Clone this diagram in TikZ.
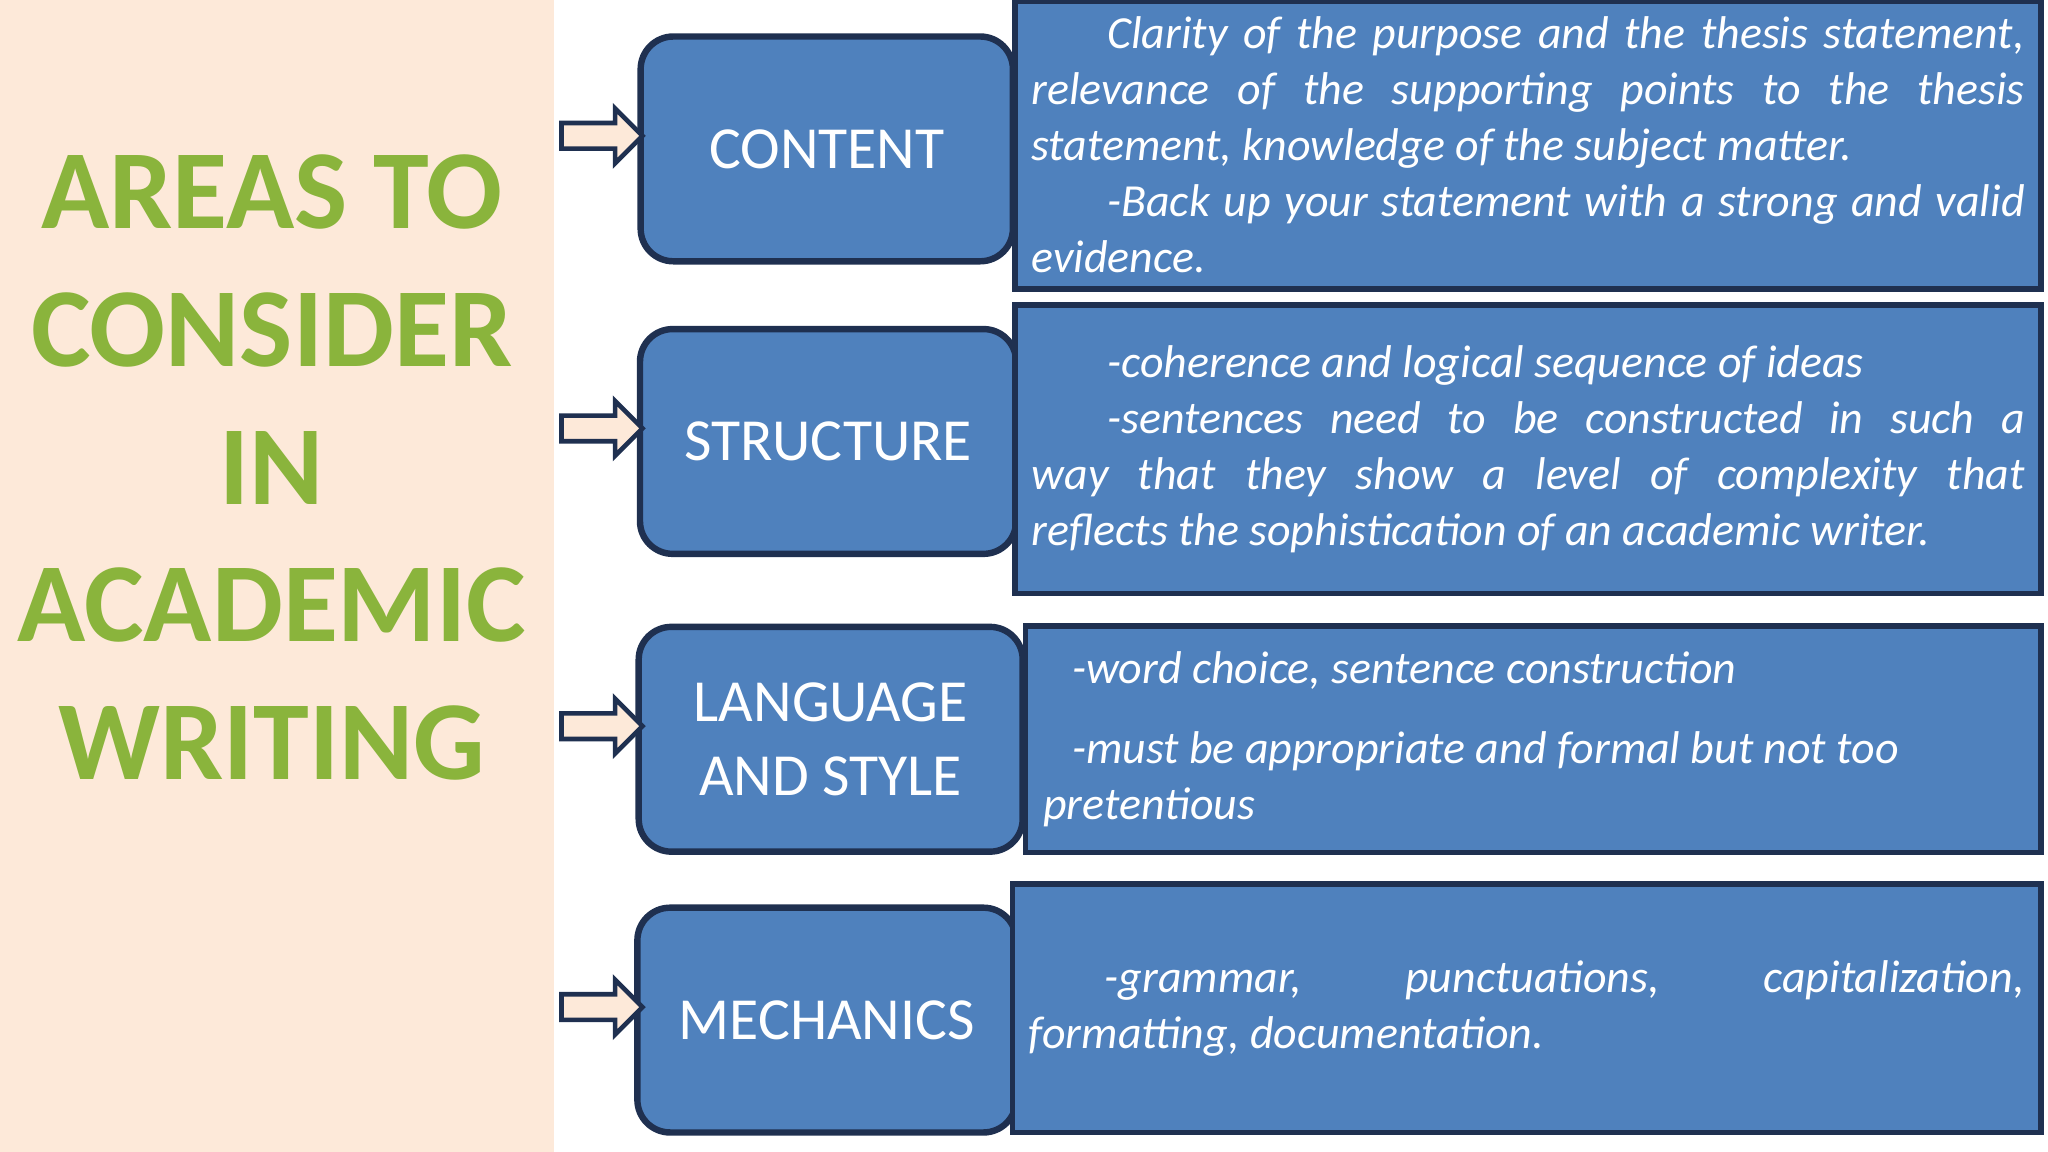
\documentclass[tikz,border=0pt]{standalone}
\usepackage{fontspec}
\setmainfont{Carlito}
\usepackage{tikz}
\usetikzlibrary{shapes.arrows}
\definecolor{Peach}{HTML}{FDE9D9}
\definecolor{BoxBlue}{HTML}{4F81BD}
\definecolor{Navy}{HTML}{1F3050}
\definecolor{TitleGreen}{HTML}{8AB43C}
\hyphenpenalty=10000
\tikzset{
    area/.style = {rounded corners = 0.25cm, fill = BoxBlue, draw = Navy, line width = 1.4pt,
        text = white, align = center, font = \fontsize{13}{16}\selectfont},
    detail/.style = {fill = BoxBlue, draw = Navy, line width = 1.2pt, text = white,
        inner sep = 0.12cm, font = \fontsize{10}{12.2}\selectfont\itshape},
    pointer/.style = {single arrow, fill = Peach, draw = Navy, line width = 1pt,
        minimum height = 0.62cm, minimum width = 0.42cm, single arrow head extend = 0.1cm,
        inner xsep = 0pt, inner ysep = 0.07cm},
}
\newcommand{\ind}{\hspace*{0.58cm}}
\begin{document}
\begin{tikzpicture}[x = 0.01cm, y = -0.01cm]
    \useasboundingbox (0, 0) rectangle (1568, 882);
    \fill [white] (0, 0) rectangle (1568, 882);
    \fill [Peach] (0, 0) rectangle (424, 882);
    \node (title) [text = TitleGreen, align = center,
        font = \fontsize{24.5}{30}\selectfont\bfseries] at (208, 358)
        {AREAS TO\\CONSIDER\\IN\\ACADEMIC\\WRITING};

    % category boxes and arrows
    \foreach \name/\y/\x/\w/\txt in {content/114/633/285/CONTENT, structure/338/634/288/STRUCTURE,
        language/566/636/294/{LANGUAGE\\AND STYLE}, mechanics/781/633/290/MECHANICS} {
        \node (\name) [area, minimum width = \w*0.01cm, minimum height = 1.72cm] at (\x, \y) {\txt};
        \node (\name-arrow) [pointer] at (456, \y - 10) {};
    }

    % detail boxes
    \node (content-text) [detail, minimum width = 7.85cm, minimum height = 2.18cm,
        text width = 7.6cm, align = justify] at (1170, 111)
        {\hyphenpenalty=10000 \ind Clarity of the purpose and the thesis statement,\linebreak relevance of the supporting points to the thesis\linebreak statement, knowledge of the subject matter.\par
         \ind -Back up your statement with a strong and valid\linebreak evidence.};
    \node (structure-text) [detail, minimum width = 7.85cm, minimum height = 2.21cm,
        text width = 7.6cm, align = justify] at (1170, 344)
        {\hyphenpenalty=10000 \ind -coherence and logical sequence of ideas\par
         \ind -sentences need to be constructed in such a\linebreak way that they show a level of complexity that\linebreak reflects the sophistication of an academic writer.};
    \node (language-text) [detail, minimum width = 7.77cm, minimum height = 1.73cm,
        text width = 7.5cm, align = flush left] at (1174, 566)
        {\hspace*{0.22cm}-word choice, sentence construction\\[0.18cm]
         \hspace*{0.22cm}-must be appropriate and formal but not too\\pretentious};
    \node (mechanics-text) [detail, minimum width = 7.87cm, minimum height = 1.90cm,
        text width = 7.62cm, align = justify] at (1169, 772)
        {\ind -grammar, punctuations, capitalization,\linebreak formatting, documentation.};
\end{tikzpicture}
\end{document}
